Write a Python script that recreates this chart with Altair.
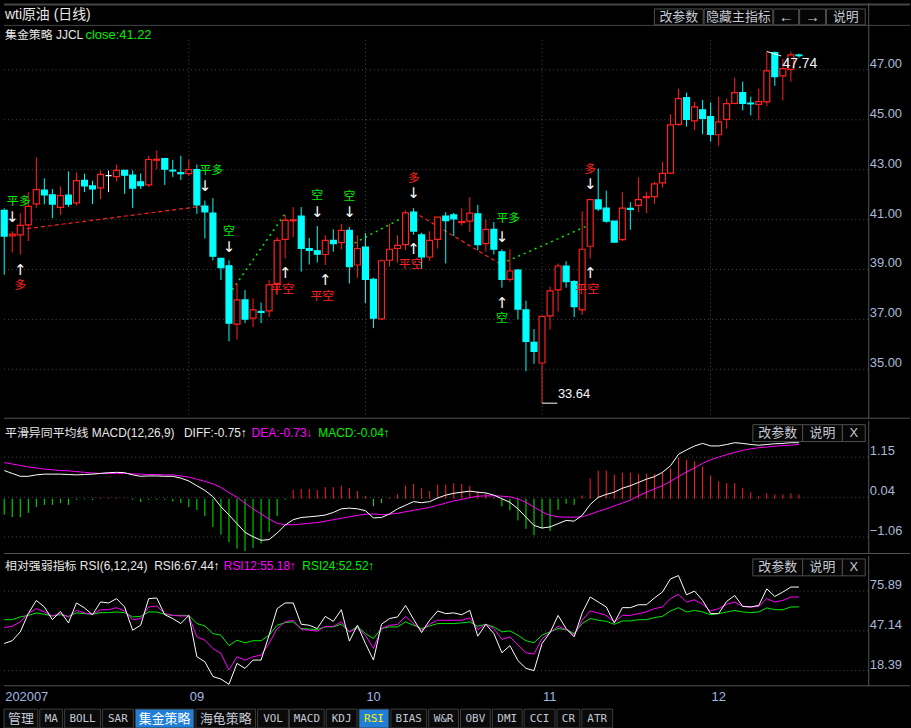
import altair as alt
import pandas as pd

# ---------------- data ----------------
opens = [41.37, 40.35, 40.39, 40.79, 41.63, 42.18, 41.99, 41.49, 41.98, 41.67,
         42.57, 42.35, 42.27, 42.76, 42.72, 42.97, 42.78, 42.51, 42.39, 43.38,
         43.45, 42.98, 42.88, 42.84, 43.00, 41.54, 41.26, 39.45, 39.15, 36.81,
         37.78, 37.05, 37.32, 37.34, 38.44, 40.21, 40.95, 41.14, 39.84, 39.75,
         39.60, 40.17, 40.08, 40.57, 39.18, 39.90, 38.60, 37.02, 39.37, 39.84,
         40.00, 41.30, 40.39, 39.50, 40.21, 41.14, 41.19, 40.88, 40.94, 41.23,
         40.04, 40.61, 39.71, 38.60, 38.98, 37.38, 36.08, 35.25, 37.14, 38.18,
         39.14, 38.51, 37.38, 39.93, 41.79, 41.46, 40.94, 40.20, 41.45, 41.57,
         41.88, 41.92, 42.47, 42.86, 44.82, 45.89, 44.96, 45.40, 45.13, 44.40,
         45.02, 45.66, 46.09, 45.67, 45.62, 45.72, 47.69, 46.76, 47.02, 47.60]
highs = [41.45, 40.53, 41.26, 42.10, 43.49, 42.65, 42.22, 42.33, 42.93, 42.89,
         42.84, 42.56, 42.97, 42.97, 43.20, 42.97, 42.97, 42.85, 43.56, 43.77,
         43.45, 43.40, 43.56, 43.40, 43.21, 41.76, 41.86, 39.45, 39.37, 38.44,
         38.18, 37.84, 37.67, 38.58, 40.30, 41.19, 41.50, 41.50, 40.26, 40.74,
         40.37, 40.61, 40.83, 40.70, 40.37, 40.46, 38.67, 39.40, 40.83, 40.37,
         41.37, 41.46, 40.47, 40.53, 41.10, 41.30, 41.27, 41.46, 41.90, 41.59,
         41.00, 40.90, 39.81, 39.81, 39.02, 37.75, 36.61, 37.12, 38.31, 39.24,
         39.33, 38.58, 41.33, 41.82, 43.05, 42.16, 40.94, 42.10, 41.70, 42.69,
         42.12, 42.52, 43.32, 45.22, 46.25, 46.09, 45.72, 45.80, 45.69, 45.93,
         45.85, 46.69, 46.53, 45.93, 46.25, 47.72, 47.74, 47.45, 47.73, 47.65]
lows = [38.79, 39.68, 39.60, 40.14, 41.47, 41.61, 41.06, 41.19, 41.51, 41.57,
        42.10, 41.62, 41.83, 42.10, 42.53, 42.03, 41.47, 42.23, 42.31, 43.02,
        42.39, 42.71, 42.59, 42.76, 41.23, 40.24, 39.36, 38.58, 36.12, 36.19,
        36.85, 36.69, 36.85, 37.09, 37.98, 39.44, 40.30, 38.91, 39.20, 39.28,
        39.18, 39.71, 39.80, 38.44, 38.67, 37.65, 36.65, 36.98, 39.11, 39.28,
        39.77, 40.39, 39.04, 39.35, 39.84, 39.24, 40.34, 40.77, 40.50, 39.77,
        39.71, 39.60, 38.27, 38.51, 37.00, 34.92, 35.22, 33.64, 36.59, 37.31,
        38.27, 37.09, 37.18, 39.44, 41.34, 40.87, 40.08, 40.14, 40.59, 41.30,
        41.26, 41.63, 42.29, 42.82, 44.76, 44.73, 44.58, 44.42, 44.13, 43.96,
        44.65, 45.62, 45.38, 45.18, 44.98, 45.56, 46.36, 45.78, 46.53, 47.49]
closes = [40.34, 40.42, 40.77, 41.53, 42.20, 41.99, 41.62, 41.96, 41.62, 42.56,
          42.35, 42.23, 42.81, 42.76, 42.97, 42.78, 42.26, 42.36, 43.41, 43.42,
          43.02, 42.95, 42.84, 43.00, 41.59, 41.31, 39.53, 39.07, 36.85, 37.78,
          37.01, 37.38, 37.28, 38.38, 40.17, 40.97, 40.99, 39.84, 39.76, 39.61,
          40.17, 40.04, 40.57, 39.11, 39.84, 38.60, 37.05, 39.35, 39.81, 39.97,
          41.27, 40.54, 39.50, 40.17, 41.10, 40.96, 41.03, 40.92, 41.26, 40.00,
          40.61, 39.81, 38.60, 38.94, 37.41, 36.12, 35.72, 37.12, 38.14, 39.14,
          38.51, 37.51, 39.81, 41.80, 41.43, 40.94, 40.10, 41.46, 41.41, 41.80,
          41.92, 42.43, 42.85, 44.80, 45.85, 45.02, 45.52, 45.06, 44.42, 44.92,
          45.65, 46.09, 45.66, 45.64, 45.73, 46.96, 46.73, 47.05, 47.60, 47.57]

macd_diff = [0.78, 0.70, 0.62, 0.62, 0.66, 0.68, 0.68, 0.68, 0.67, 0.66,
             0.67, 0.68, 0.70, 0.72, 0.73, 0.72, 0.66, 0.62, 0.63, 0.63,
             0.62, 0.62, 0.57, 0.49, 0.36, 0.23, 0.06, -0.22, -0.45, -0.69,
             -0.93, -1.05, -1.15, -1.13, -0.95, -0.73, -0.58, -0.52, -0.50, -0.48,
             -0.45, -0.38, -0.28, -0.26, -0.28, -0.33, -0.53, -0.52, -0.42, -0.28,
             -0.18, -0.08, -0.11, -0.08, 0.02, 0.10, 0.15, 0.18, 0.21, 0.18,
             0.16, 0.10, 0.00, -0.10, -0.28, -0.51, -0.74, -0.81, -0.78, -0.69,
             -0.60, -0.62, -0.46, -0.16, 0.04, 0.12, 0.18, 0.29, 0.36, 0.45,
             0.54, 0.61, 0.73, 0.91, 1.23, 1.35, 1.46, 1.53, 1.46, 1.46,
             1.50, 1.55, 1.53, 1.50, 1.48, 1.50, 1.52, 1.53, 1.55, 1.55]
macd_dea = [1.00, 0.96, 0.92, 0.88, 0.85, 0.82, 0.80, 0.78, 0.77, 0.75,
            0.73, 0.71, 0.70, 0.70, 0.70, 0.70, 0.69, 0.68, 0.67, 0.67,
            0.66, 0.66, 0.63, 0.60, 0.54, 0.48, 0.41, 0.31, 0.17, 0.04,
            -0.12, -0.28, -0.42, -0.56, -0.68, -0.72, -0.72, -0.70, -0.68, -0.66,
            -0.62, -0.58, -0.54, -0.50, -0.46, -0.43, -0.42, -0.44, -0.43, -0.40,
            -0.36, -0.32, -0.28, -0.24, -0.18, -0.12, -0.06, -0.02, 0.03, 0.07,
            0.08, 0.08, 0.07, 0.05, 0.00, -0.10, -0.23, -0.36, -0.46, -0.50,
            -0.51, -0.51, -0.50, -0.43, -0.35, -0.28, -0.20, -0.12, -0.04, 0.08,
            0.18, 0.27, 0.36, 0.48, 0.61, 0.74, 0.85, 0.98, 1.08, 1.15,
            1.22, 1.28, 1.34, 1.38, 1.41, 1.43, 1.45, 1.47, 1.48, 1.50]
macd_hist = [-0.44, -0.51, -0.51, -0.39, -0.23, -0.17, -0.17, -0.12, -0.17, -0.03,
             -0.02, -0.03, 0.02, 0.02, 0.02, 0.01, -0.03, -0.09, -0.03, -0.03,
             -0.03, -0.08, -0.12, -0.23, -0.31, -0.48, -0.78, -0.99, -1.20, -1.38,
             -1.45, -1.36, -1.24, -0.92, -0.48, -0.03, 0.24, 0.27, 0.27, 0.24,
             0.32, 0.32, 0.36, 0.30, 0.21, 0.07, -0.21, -0.12, 0.03, 0.12,
             0.36, 0.41, 0.29, 0.21, 0.39, 0.39, 0.43, 0.41, 0.36, 0.21,
             0.15, 0.03, -0.21, -0.32, -0.60, -0.83, -1.01, -0.83, -0.89, -0.31,
             -0.14, -0.17, 0.09, 0.56, 0.78, 0.78, 0.67, 0.72, 0.72, 0.69,
             0.69, 0.69, 0.72, 0.84, 1.14, 1.08, 1.03, 0.89, 0.64, 0.48,
             0.43, 0.43, 0.30, 0.18, 0.07, 0.15, 0.12, 0.12, 0.15, 0.12]

rsi6 = [38.0, 40.0, 46.4, 59.6, 69.1, 64.4, 55.2, 61.2, 52.9, 67.3,
        63.7, 58.8, 68.0, 67.3, 70.4, 64.4, 47.6, 51.2, 70.4, 70.9,
        58.8, 56.0, 52.4, 58.3, 28.4, 24.8, 14.1, 12.3, 8.5, 23.6,
        20.0, 26.0, 26.0, 44.0, 63.2, 67.3, 67.3, 51.9, 51.2, 48.8,
        57.6, 54.0, 62.4, 39.7, 51.2, 38.0, 26.0, 51.9, 56.0, 57.2,
        65.5, 55.5, 45.9, 54.8, 61.5, 59.6, 60.1, 58.8, 61.9, 43.3,
        51.9, 45.2, 31.3, 36.4, 25.6, 20.0, 18.4, 38.0, 45.9, 58.3,
        48.8, 42.8, 60.1, 71.6, 68.0, 64.4, 52.9, 63.9, 63.9, 66.0,
        66.0, 70.9, 75.2, 84.7, 87.1, 73.2, 75.9, 69.1, 59.6, 59.6,
        68.4, 72.7, 64.8, 64.4, 65.5, 77.5, 72.0, 75.2, 78.8, 78.8]
rsi12 = [49.5, 50.4, 53.6, 59.6, 63.2, 60.8, 57.9, 59.6, 57.2, 61.9,
         60.1, 59.1, 62.4, 62.4, 63.9, 61.5, 55.2, 56.0, 64.4, 65.1,
         59.6, 58.3, 57.9, 57.9, 42.8, 40.4, 34.4, 30.8, 18.8, 28.4,
         26.0, 28.4, 29.6, 38.0, 48.8, 53.6, 54.8, 48.1, 47.6, 46.9,
         50.4, 50.4, 53.6, 46.4, 49.2, 44.0, 34.4, 48.8, 51.2, 51.7,
         57.6, 52.4, 47.6, 51.9, 54.8, 54.8, 54.8, 54.8, 56.5, 48.1,
         51.9, 48.8, 40.9, 42.8, 36.8, 31.3, 30.3, 41.6, 45.9, 50.4,
         48.1, 44.0, 54.8, 61.5, 60.1, 58.3, 53.6, 58.3, 58.3, 59.6,
         60.8, 63.2, 64.4, 70.4, 73.5, 68.0, 69.6, 66.3, 61.5, 63.2,
         66.3, 68.0, 64.8, 64.4, 64.8, 70.4, 68.0, 69.1, 71.6, 71.6]
rsi24 = [55.2, 55.2, 57.2, 58.3, 60.1, 59.1, 57.9, 58.8, 57.6, 60.1,
         59.6, 59.1, 60.3, 60.3, 60.8, 60.3, 57.2, 57.6, 60.8, 60.8,
         59.1, 58.3, 58.3, 58.3, 52.4, 50.7, 45.2, 44.0, 36.4, 40.4,
         38.5, 40.0, 40.0, 44.0, 51.2, 53.1, 53.6, 48.8, 48.4, 48.1,
         50.0, 50.0, 51.9, 46.4, 50.4, 45.2, 41.6, 48.8, 50.0, 50.0,
         53.6, 51.2, 48.8, 50.7, 52.4, 52.4, 52.4, 52.9, 53.6, 50.4,
         51.9, 50.0, 46.4, 47.1, 44.0, 40.0, 38.5, 44.0, 46.4, 48.8,
         48.1, 45.2, 52.4, 56.0, 54.8, 54.0, 51.9, 54.3, 54.3, 55.2,
         55.2, 56.7, 57.6, 61.5, 63.9, 60.8, 61.9, 60.8, 58.8, 59.6,
         60.8, 61.9, 60.8, 60.3, 60.8, 63.7, 62.4, 62.4, 64.4, 64.4]

price_ticks = [47.00, 45.00, 43.00, 41.00, 39.00, 37.00, 35.00]
macd_ticks = [1.15, 0.04, -1.06]
rsi_ticks = [75.89, 47.14, 18.39]
month_idx = [0, 23, 45, 67, 88]
month_labels = ["202007", "09", "10", "11", "12"]

signal_idx = [1, 2, 25, 28, 35, 39, 40, 43, 51, 51, 62, 62, 73, 73]
signal_text = ["平多", "多", "平多", "空", "平空", "空", "平空", "空", "多", "平空", "平多", "空", "多", "平空"]
signal_dir = ["down", "up", "down", "down", "up", "down", "up", "down", "down", "up", "down", "up", "down", "up"]
signal_arrow_price = [41.11, 38.98, 42.35, 39.91, 38.86, 41.31, 38.56, 41.29, 42.05, 39.81, 40.31, 37.66, 42.42, 38.86]
signal_label_price = [41.75, 38.36, 42.98, 40.54, 38.21, 41.98, 37.92, 41.94, 42.67, 39.20, 41.07, 37.06, 43.01, 38.20]

trade_start_idx = [2, 28, 43, 51, 62]
trade_start_price = [40.60, 37.99, 39.95, 41.31, 39.24]
trade_end_idx = [25, 35, 51, 62, 73]
trade_end_price = [41.55, 41.24, 41.31, 39.18, 40.80]
trade_side = ["long", "short", "short", "long", "short"]

high_idx, high_val = 96, 47.74
low_idx, low_val = 67, 33.64

tab_labels = ["管理", "MA", "BOLL", "SAR", "集金策略", "海龟策略", "VOL", "MACD", "KDJ",
              "RSI", "BIAS", "W&R", "OBV", "DMI", "CCI", "CR", "ATR"]

# ---------------- styling / layout ----------------
FONT = "Liberation Sans, Noto Sans CJK SC, sans-serif"
CJK = "Noto Sans CJK SC, Liberation Sans, sans-serif"
MONO = "DejaVu Sans Mono, monospace"
W = 911
H_MAIN, H_MACD, H_RSI, H_BOT = 418, 134, 131, 45
AX = 869.5
GRID = "#4e4e4e"
BORDER = "#555555"
LAB = "#a9b9d6"
RED = "#ff2020"
CYAN = "#00ffff"
GREEN = "#00ee00"
MAG = "#ff00ff"
WHITE = "#e8e8e8"
BTN_TXT = "#c4c8d4"

xs = alt.Scale(domain=[-0.0285, 112.84], nice=False, zero=False)
ym = alt.Scale(domain=[33.017, 49.683], nice=False, zero=False)
yd = alt.Scale(domain=[-1.528, 2.158], nice=False, zero=False)
yr = alt.Scale(domain=[7.09, 101.27], nice=False, zero=False)


def X(f):
    return alt.X(f, type="quantitative", scale=xs, axis=None)


def Y(f, s):
    return alt.Y(f, type="quantitative", scale=s, axis=None)


def txt(s, x, y, color, size=12, font=FONT, align="left", weight="normal"):
    return alt.Chart(alt.Data(values=[{"s": s}])).mark_text(
        align=align, baseline="middle", font=font, fontSize=size, color=color, fontWeight=weight
    ).encode(x=alt.value(x), y=alt.value(y), text="s:N")


def box(x0, x1, y0, y1, fill="#060606", stroke="#505050"):
    return alt.Chart(alt.Data(values=[{"k": 1}])).mark_rect(
        fill=fill, stroke=stroke, strokeWidth=1
    ).encode(x=alt.value(x0), x2=alt.value(x1), y=alt.value(y0), y2=alt.value(y1))


def hline(y, x0, x1, color, width=1):
    return alt.Chart(alt.Data(values=[{"k": 1}])).mark_rule(color=color, strokeWidth=width).encode(
        x=alt.value(x0), x2=alt.value(x1), y=alt.value(y))


def vline(x, y0, y1, color, width=1):
    return alt.Chart(alt.Data(values=[{"k": 1}])).mark_rule(color=color, strokeWidth=width).encode(
        x=alt.value(x), y=alt.value(y0), y2=alt.value(y1))


def grid_and_labels(ticks, scale):
    d = pd.DataFrame({"v": ticks})
    g = alt.Chart(d).mark_rule(color=GRID, strokeDash=[1, 3], strokeWidth=1).encode(
        x=alt.value(0), x2=alt.value(AX - 0.5), y=Y("v", scale))
    t = alt.Chart(d).transform_calculate(lbl="format(datum.v, '.2f')").mark_text(
        align="left", baseline="alphabetic", dy=-2, font=FONT, fontSize=13, color=LAB
    ).encode(x=alt.value(AX + 1), y=Y("v", scale), text="lbl:N")
    return g, t


# ---------------- main price panel ----------------
candles = pd.DataFrame({"i": list(range(len(opens))), "open": opens, "high": highs,
                        "low": lows, "close": closes})
cbase = alt.Chart(candles).transform_calculate(
    col=f"datum.close > datum.open ? '{RED}' : (datum.close < datum.open ? '{CYAN}' : '#ffffff')",
    fillc=f"datum.close > datum.open ? '#000000' : (datum.close < datum.open ? '{CYAN}' : '#ffffff')",
    xl="datum.i - 0.37", xr="datum.i + 0.37")
wicks = cbase.mark_rule(strokeWidth=1).encode(
    x=X("i"), y=Y("low", ym), y2="high:Q", color=alt.Color("col:N", scale=None))
bodies = cbase.mark_rect(strokeWidth=1.2).encode(
    x=X("xl"), x2="xr:Q", y=Y("open", ym), y2="close:Q",
    fill=alt.Fill("fillc:N", scale=None), stroke=alt.Stroke("col:N", scale=None))

pg, pl = grid_and_labels(price_ticks, ym)
vgrid = alt.Chart(pd.DataFrame({"m": month_idx[1:]})).mark_rule(
    color=GRID, strokeDash=[1, 3]).encode(x=X("m"), y=alt.value(37), y2=alt.value(417))

trades = pd.DataFrame({"i0": trade_start_idx, "p0": trade_start_price,
                       "i1": trade_end_idx, "p1": trade_end_price, "side": trade_side})
trade_long = alt.Chart(trades).transform_filter("datum.side == 'long'").mark_rule(
    color=RED, strokeDash=[4, 3], strokeWidth=1.2).encode(
    x=X("i0"), x2="i1:Q", y=Y("p0", ym), y2="p1:Q")
trade_short = alt.Chart(trades).transform_filter("datum.side == 'short'").mark_rule(
    color=GREEN, strokeDash=[2, 4], strokeWidth=1.5).encode(
    x=X("i0"), x2="i1:Q", y=Y("p0", ym), y2="p1:Q")

sig = pd.DataFrame({"i": signal_idx, "t": signal_text, "d": signal_dir,
                    "pa": signal_arrow_price, "pl": signal_label_price})
arrows = alt.Chart(sig).transform_calculate(
    a="datum.d == 'up' ? '↑' : '↓'").mark_text(
    color="#ffffff", fontSize=15, font="DejaVu Sans", baseline="middle").encode(
    x=X("i"), y=Y("pa", ym), text="a:N")
sig_labels = alt.Chart(sig).transform_calculate(
    xo="datum.i + (datum.t == '平多' ? 0.8 : (datum.t == '平空' ? -0.37 : 0))",
    c=f"(datum.t == '多' || datum.t == '平空') ? '{RED}' : '{GREEN}'").mark_text(
    fontSize=12, font=CJK, baseline="middle").encode(
    x=X("xo"), y=Y("pl", ym), text="t:N", color=alt.Color("c:N", scale=None))

ext = pd.DataFrame({"i": [high_idx, low_idx], "v": [high_val, low_val], "k": ["hi", "lo"]})
ext_lines = alt.Chart(ext).transform_calculate(
    a="datum.k == 'hi' ? datum.i - 1.0 : datum.i",
    b="datum.k == 'hi' ? datum.i + 0.8 : datum.i + 1.9",
    va="datum.v",
    vb="datum.k == 'hi' ? datum.v - 0.18 : datum.v").mark_rule(
    color="#ffffff", strokeWidth=1).encode(x=X("a"), x2="b:Q", y=Y("va", ym), y2="vb:Q")
ext_text = alt.Chart(ext).transform_calculate(
    xo="datum.k == 'hi' ? datum.i + 0.95 : datum.i + 1.98",
    yo="datum.k == 'hi' ? datum.v - 0.52 : datum.v + 0.36",
    lbl="format(datum.v, '.2f')").mark_text(
    align="left", baseline="middle", font=FONT, color="#f4f6ff").encode(
    x=X("xo"), y=Y("yo", ym), text="lbl:N",
    size=alt.condition("datum.k == 'hi'", alt.value(14), alt.value(13)))

main_layers = [
    pg, vgrid, trade_long, trade_short, wicks, bodies, arrows, sig_labels,
    ext_lines, ext_text, pl,
    hline(1.5, 0, W, "#454545", 2), hline(22.5, 0, W, "#454545", 1),
    vline(AX, 0, H_MAIN, BORDER), hline(H_MAIN - 0.5, 0, W, BORDER, 1),
    txt("wti原油 (日线)", 1, 12.5, WHITE, 14),
    txt("集金策略 JJCL", 1, 32, WHITE, 12),
    txt("close:41.22", 82, 32, GREEN, 13),
    box(654, 703, 6, 22), box(704, 773, 6, 22), box(774, 799, 6, 22),
    box(800, 826, 6, 22), box(827, 866, 6, 22),
    txt("改参数", 678.5, 14, BTN_TXT, 13, align="center"),
    txt("隐藏主指标", 738.5, 14, BTN_TXT, 13, align="center"),
    txt("←", 786.5, 14, BTN_TXT, 15, align="center", weight="bold"),
    txt("→", 813, 14, BTN_TXT, 15, align="center", weight="bold"),
    txt("说明", 846.5, 14, BTN_TXT, 13, align="center"),
]
main = alt.layer(*main_layers).properties(width=W, height=H_MAIN)

# ---------------- MACD panel ----------------
mdf = pd.DataFrame({"i": list(range(len(macd_diff))), "diff": macd_diff,
                    "dea": macd_dea, "hist": macd_hist})
mg, ml = grid_and_labels(macd_ticks, yd)
hist = alt.Chart(mdf).transform_calculate(
    zero="0", c=f"datum.hist >= 0 ? '{RED}' : '{GREEN}'").mark_rule(strokeWidth=1).encode(
    x=X("i"), y=Y("zero", yd), y2="hist:Q", color=alt.Color("c:N", scale=None))
diff_line = alt.Chart(mdf).mark_line(color="#ffffff", strokeWidth=1).encode(x=X("i"), y=Y("diff", yd))
dea_line = alt.Chart(mdf).mark_line(color=MAG, strokeWidth=1).encode(x=X("i"), y=Y("dea", yd))


def panel_buttons(y0, y1):
    ym_ = (y0 + y1) / 2
    return [box(753, 803, y0, y1), box(803, 843, y0, y1), box(843, 866, y0, y1),
            txt("改参数", 778, ym_, BTN_TXT, 13, align="center"),
            txt("说明", 823, ym_, BTN_TXT, 13, align="center"),
            txt("X", 854.5, ym_, BTN_TXT, 13, align="center")]


macd_layers = [
    mg, hist, dea_line, diff_line, ml,
    vline(AX, 0, H_MACD, BORDER), hline(H_MACD - 0.5, 0, W, BORDER, 1),
    txt("平滑异同平均线 MACD(12,26,9)", 1, 12, WHITE, 12),
    txt("DIFF:-0.75↑", 181, 12, WHITE, 12),
    txt("DEA:-0.73↓", 249, 12, MAG, 12),
    txt("MACD:-0.04↑", 316, 12, GREEN, 12),
] + panel_buttons(4, 21)
macd = alt.layer(*macd_layers).properties(width=W, height=H_MACD)

# ---------------- RSI panel ----------------
rdf = pd.DataFrame({"i": list(range(len(rsi6))), "r6": rsi6, "r12": rsi12, "r24": rsi24})
rg, rl = grid_and_labels(rsi_ticks, yr)
r24_line = alt.Chart(rdf).mark_line(color=GREEN, strokeWidth=1).encode(x=X("i"), y=Y("r24", yr))
r12_line = alt.Chart(rdf).mark_line(color=MAG, strokeWidth=1).encode(x=X("i"), y=Y("r12", yr))
r6_line = alt.Chart(rdf).mark_line(color="#ffffff", strokeWidth=1).encode(x=X("i"), y=Y("r6", yr))
rsi_layers = [
    rg, r24_line, r12_line, r6_line, rl,
    vline(AX, 0, H_RSI, BORDER), hline(H_RSI - 0.5, 0, W, BORDER, 1),
    txt("相对强弱指标 RSI(6,12,24)", 1, 10, WHITE, 12),
    txt("RSI6:67.44↑", 151, 10, WHITE, 12),
    txt("RSI12:55.18↑", 221, 10, MAG, 12),
    txt("RSI24:52.52↑", 300, 10, GREEN, 12),
] + panel_buttons(3, 20)
rsi = alt.layer(*rsi_layers).properties(width=W, height=H_RSI)

# ---------------- date axis + tab bar ----------------
months = pd.DataFrame({"m": month_idx, "lbl": month_labels})
month_text = alt.Chart(months).mark_text(
    align="left", baseline="middle", font=FONT, fontSize=13, color="#9fb8e6", dx=1).encode(
    x=X("m"), y=alt.value(10), text="lbl:N")

tab_edges = [(0, 34), (36, 59), (61, 97), (99, 130), (132, 191), (193, 253), (255, 286),
             (287, 322), (324, 355), (357, 387), (389, 425), (427, 457), (459, 489),
             (491, 521), (523, 554), (556, 579), (581, 612)]
tab_layers = []
for lbl, (a, b) in zip(tab_labels, tab_edges):
    hi = lbl in ("集金策略", "RSI")
    fill = "#1f7fd8" if hi else "#0a0a0a"
    tab_layers.append(box(a, b, 22, 41, fill=fill, stroke="#3e3e3e"))
    is_cjk = any(ord(ch) > 255 for ch in lbl)
    color = "#ffee00" if lbl == "RSI" else ("#ffffff" if hi else BTN_TXT)
    tab_layers.append(txt(lbl, (a + b) / 2, 31.5, color, 13 if is_cjk else 11,
                          font=CJK if is_cjk else MONO, align="center"))
bottom = alt.layer(month_text, *tab_layers).properties(width=W, height=H_BOT)

chart = alt.vconcat(main, macd, rsi, bottom, spacing=0).resolve_scale(
    x="independent", y="independent").properties(
    background="#000000", padding=0).configure_view(strokeWidth=0)

chart.save("out.html", embed_options={"renderer": "svg", "actions": False})
